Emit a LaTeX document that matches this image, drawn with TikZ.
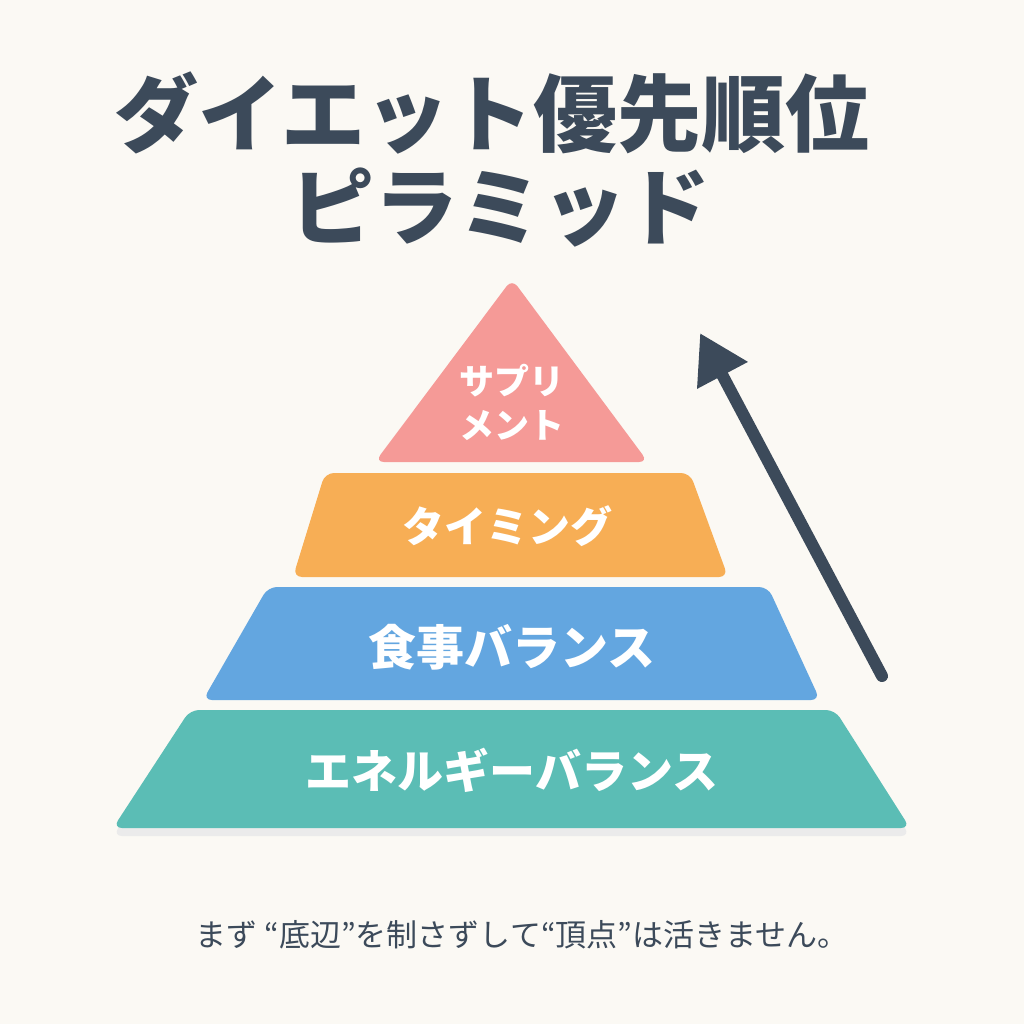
\documentclass[tikz,border=0pt]{standalone}
\usepackage{fontspec}
\setmainfont{Noto Sans CJK JP}
\usetikzlibrary{arrows.meta}
\definecolor{bg}{HTML}{FBF9F4}
\definecolor{ink}{HTML}{3C4A5A}
\definecolor{pinkc}{HTML}{F59A97}
\definecolor{orangec}{HTML}{F7AE55}
\definecolor{bluec}{HTML}{63A6E0}
\definecolor{tealc}{HTML}{5BBDB5}
\tikzset{layer/.style={rounded corners=9pt, draw=none},
lab/.style={text=white, font=\bfseries, inner sep=0pt}}
\begin{document}
\begin{tikzpicture}[x=1pt,y=-1pt]
\fill[bg] (0,0) rectangle (1024,1024);
\useasboundingbox (0,0) rectangle (1024,1024);
\node[text=ink,font=\bfseries\fontsize{84}{84}\selectfont,inner sep=0pt] (t1) at (492,113) {ダイエット優先順位};
\node[text=ink,font=\bfseries\fontsize{84}{84}\selectfont,inner sep=0pt] (t2) at (500,208) {ピラミッド};
% shadow
\fill[black!8,rounded corners=9pt] (190,718) -- (835,718) -- (910,836) -- (113,836) -- cycle;
\fill[layer,fill=tealc] (190,710) -- (835,710) -- (910,828) -- (113,828) -- cycle;
\fill[layer,fill=bluec] (268,587) -- (768,587) -- (820,700) -- (203,700) -- cycle;
\fill[layer,fill=orangec] (325,473) -- (690,473) -- (728,577) -- (293,577) -- cycle;
\fill[layer,fill=pinkc] (512,279) -- (648,462) -- (375,462) -- cycle;
\node[lab,font=\bfseries\fontsize{46}{46}\selectfont] (l4) at (512,770) {エネルギーバランス};
\node[lab,font=\bfseries\fontsize{48}{48}\selectfont] (l3) at (512,647) {食事バランス};
\node[lab,font=\bfseries\fontsize{42}{42}\selectfont] (l2) at (507,526) {タイミング};
\node[lab,font=\bfseries\fontsize{35}{44}\selectfont,align=center] (l1) at (512,402) {サプリ\\メント};
\coordinate (as) at (882,676);
\coordinate (ae) at (700,333);
\draw[ink,line width=12pt,line cap=round,-{Triangle[length=48pt,width=54pt]}] (as) -- (ae);
\node[text=ink,font=\fontsize{31}{31}\selectfont,inner sep=0pt] (ft) at (522,935) {まず “底辺”を制さずして“頂点”は活きません。};
\end{tikzpicture}
\end{document}
